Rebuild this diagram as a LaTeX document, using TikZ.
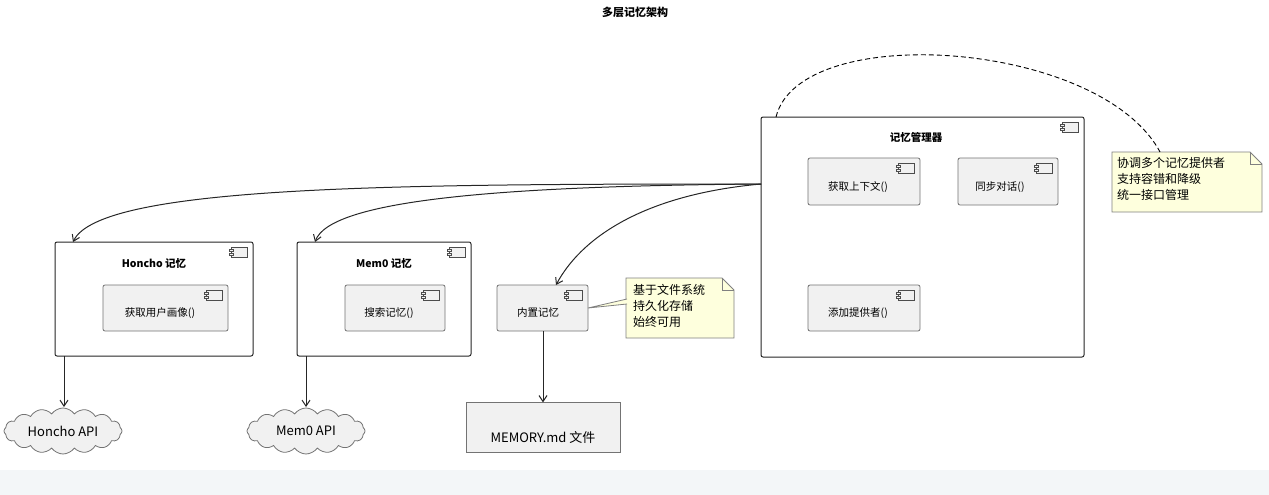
\documentclass[tikz,border=0pt]{standalone}
\usepackage{fontspec}
\setmainfont{Noto Sans CJK SC}
\usetikzlibrary{shapes.symbols,shapes.geometric,arrows.meta}
\definecolor{compfill}{HTML}{F1F1F1}
\definecolor{notefill}{HTML}{FEFFDD}
\definecolor{band}{HTML}{F3F6F8}
\begin{document}
\begin{tikzpicture}[x=1pt,y=-1pt,
 box/.style={draw=black!85,line width=1pt,fill=white,rounded corners=2pt},
 comp/.style={draw=black!55,line width=0.8pt,fill=compfill,rounded corners=2pt},
 ttl/.style={font=\bfseries\fontsize{10.5}{12}\selectfont},
 lbl/.style={font=\fontsize{10.5}{12}\selectfont},
 arr/.style={-{Straight Barb[length=6pt,width=8pt]},line width=1pt,black!85},
 note/.style={draw=black!50,fill=notefill,line width=0.8pt},
 cloudst/.style={cloud,cloud puffs=16,cloud puff arc=110,aspect=3,draw=black!55,fill=compfill,line width=0.8pt,font=\fontsize{13}{15}\selectfont,minimum width=118pt,minimum height=46pt,inner sep=0pt}]
\useasboundingbox (0,0) rectangle (1269,495);
\fill[band] (0,470) rectangle (1269,495);
\newcommand{\cicon}[2]{\draw[black!70,fill=compfill,line width=0.6pt] (#1-8,#2-5) rectangle (#1+8,#2+5);
 \draw[black!70,fill=compfill,line width=0.6pt] (#1-10,#2-3) rectangle (#1-6,#2-1) (#1-10,#2+1) rectangle (#1-6,#2+3);}
\node[font=\bfseries\fontsize{11}{13}\selectfont] (title) at (635,12) {多层记忆架构};
% manager
\draw[box] (761,117) rectangle (1084,357);
\coordinate (mgrL) at (761,184);
\coordinate (mgrT) at (776,117);
\cicon{1070}{127}
\node[ttl] (mgr) at (916,137) {记忆管理器};
\draw[comp] (808,158) rectangle (920,205); \cicon{906}{168}
\node[lbl] (ctx) at (858,187) {获取上下文()};
\draw[comp] (958,158) rectangle (1058,205); \cicon{1044}{168}
\node[lbl] (sync) at (1000,187) {同步对话()};
\draw[comp] (808,285) rectangle (920,331); \cicon{906}{295}
\node[lbl] (add) at (858,313) {添加提供者()};
% honcho
\draw[box] (55,242) rectangle (253,356); \cicon{239}{252}
\node[ttl] (hon) at (154,264) {Honcho 记忆};
\draw[comp] (103,285) rectangle (228,331); \cicon{214}{295}
\node[lbl] (prof) at (160,313) {获取用户画像()};
% mem0
\draw[box] (297,242) rectangle (471,356); \cicon{457}{252}
\node[ttl] (mem0) at (384,264) {Mem0 记忆};
\draw[comp] (345,285) rectangle (445,331); \cicon{431}{295}
\node[lbl] (search) at (389,313) {搜索记忆()};
% builtin
\draw[comp] (497,285) rectangle (588,331); \cicon{574}{295}
\node[lbl] (builtin) at (538,313) {内置记忆};
% notes
\draw[note] (626,278) -- (722,278) -- (734,290) -- (734,338) -- (626,338) -- cycle;
\draw[black!50,line width=0.8pt] (722,278) -- (722,290) -- (734,290);
\fill[notefill] (588,308) -- (627,299) -- (627,304) -- cycle;
\draw[black!50,line width=0.8pt] (627,299) -- (588,308) -- (627,304);
\node[font=\fontsize{12}{16}\selectfont,align=left,anchor=north west,inner sep=0pt] (n1) at (633,284) {基于文件系统\\持久化存储\\始终可用};
\draw[note] (1112,152) -- (1250,152) -- (1262,164) -- (1262,212) -- (1112,212) -- cycle;
\draw[black!50,line width=0.8pt] (1250,152) -- (1250,164) -- (1262,164);
\node[font=\fontsize{12}{16}\selectfont,align=left,anchor=north west,inner sep=0pt] (n2) at (1117,157) {协调多个记忆提供者\\支持容错和降级\\统一接口管理};
\coordinate (n2T) at (1160,152);
\draw[dashed,line width=0.9pt,dash pattern=on 5pt off 3pt] (mgrT) .. controls (800,20) and (1100,40) .. (n2T);
% externals
\node[cloudst] (hapi) at (63,431) {Honcho API};
\node[cloudst] (mapi) at (306,431) {Mem0 API};
\node[cylinder,shape border rotate=90,aspect=0.28,draw=black!55,fill=compfill,line width=0.8pt,minimum width=154pt,minimum height=50pt,inner sep=0pt] (db) at (543,428) {};
\node[font=\fontsize{13}{15}\selectfont] (dbt) at (543,438) {MEMORY.md 文件};
% arrows
\draw[arr] (mgrL) .. controls (400,184) and (100,185) .. (73,242);
\draw[arr] (mgrL) .. controls (500,186) and (330,200) .. (315,242);
\draw[arr] (mgrL) .. controls (640,195) and (580,240) .. (556,285);
\draw[arr] (64,356) -- (64,407);
\draw[arr] (306,356) -- (306,407);
\draw[arr] (543,331) -- (db.north);
\end{tikzpicture}
\end{document}
